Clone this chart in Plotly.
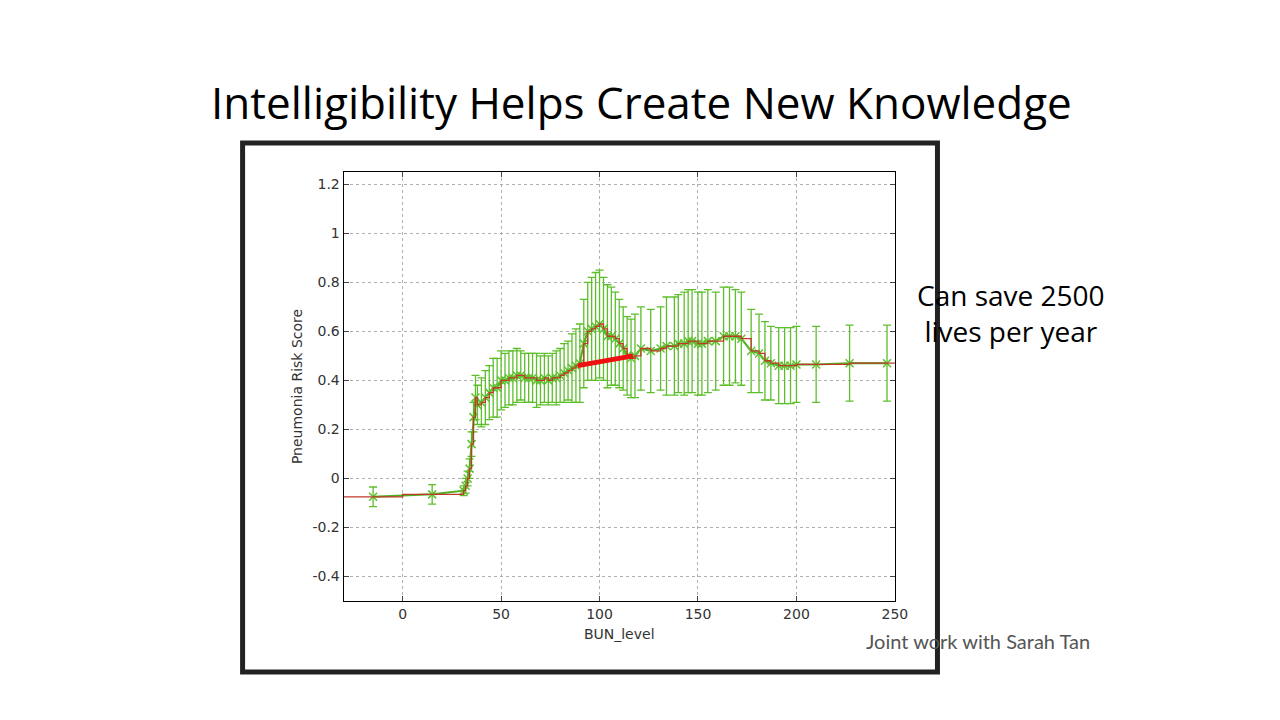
import plotly.graph_objects as go

bun = [-15, 15, 31, 32, 33, 34, 35, 36, 37, 38, 40, 42, 44, 46, 48, 50, 52, 54, 56, 58, 60, 62, 64, 66, 68, 70,
       72, 74, 76, 78, 80, 82, 84, 86, 88, 90, 92, 94, 96, 98, 100, 102, 104, 106, 108, 110, 112, 114, 116, 118,
       121, 126, 131, 134, 138, 140, 143, 145, 147, 150, 152, 155, 159, 163, 166, 169, 172, 177, 181, 184, 187,
       191, 194, 197, 200, 210, 227, 246]
risk = [-0.075, -0.065, -0.05, -0.03, 0.0, 0.04, 0.14, 0.25, 0.33, 0.30, 0.31, 0.33, 0.35, 0.37, 0.37, 0.40, 0.40,
        0.41, 0.41, 0.42, 0.42, 0.41, 0.41, 0.41, 0.40, 0.40, 0.41, 0.40, 0.41, 0.41, 0.42, 0.43, 0.44, 0.45, 0.46,
        0.47, 0.55, 0.60, 0.61, 0.62, 0.63, 0.61, 0.58, 0.58, 0.57, 0.55, 0.53, 0.50, 0.49, 0.50,
        0.53, 0.52, 0.53, 0.54, 0.54, 0.55, 0.55, 0.56, 0.56, 0.55, 0.55, 0.56, 0.56, 0.58, 0.58, 0.58, 0.57, 0.52,
        0.51, 0.48, 0.47, 0.46, 0.46, 0.46, 0.465, 0.465, 0.47, 0.47]
err = [0.04, 0.04, 0.02, 0.03, 0.03, 0.04, 0.05, 0.06, 0.09, 0.08, 0.10, 0.11, 0.11, 0.12, 0.12, 0.12, 0.11, 0.11,
       0.11, 0.11, 0.10, 0.10, 0.10, 0.10, 0.11, 0.10, 0.10, 0.10, 0.10, 0.11, 0.11, 0.12, 0.12, 0.14, 0.15, 0.16,
       0.18, 0.20, 0.21, 0.22, 0.22, 0.21, 0.21, 0.20, 0.19, 0.18, 0.17, 0.16, 0.16, 0.17,
       0.17, 0.17, 0.17, 0.20, 0.20, 0.20, 0.21, 0.21, 0.21, 0.21, 0.21, 0.21, 0.20, 0.20, 0.20, 0.19, 0.19, 0.17,
       0.16, 0.16, 0.15, 0.155, 0.155, 0.155, 0.155, 0.155, 0.155, 0.155]
step_x = [-30, 0, 30] + bun[2:] + [250]
step_y = [-0.075, -0.065, -0.065] + risk[2:] + [0.47]
red_seg_x = [89, 117]
red_seg_y = [0.46, 0.50]
y_ticks = [-0.4, -0.2, 0, 0.2, 0.4, 0.6, 0.8, 1, 1.2]
y_labels = ["-0.4", "-0.2", "0", "0.2", "0.4", "0.6", "0.8", "1", "1.2"]

W, H = 1280, 720
def px(x): return x / W
def py(y): return 1 - y / H

fig = go.Figure()
fig.add_trace(go.Scatter(x=bun, y=risk, mode="lines+markers",
                         line=dict(color="#4caf20", width=2),
                         marker=dict(symbol="x-thin", size=8, line=dict(color="#60c030", width=1.5)),
                         error_y=dict(type="data", array=err, color="#5cbf2a", thickness=1.3, width=4),
                         showlegend=False))
fig.add_trace(go.Scatter(x=step_x, y=step_y, mode="lines", line=dict(color="#c0392b", width=1.3, shape="hv"),
                         showlegend=False))
fig.add_trace(go.Scatter(x=red_seg_x, y=red_seg_y, mode="lines", line=dict(color="#ee1111", width=5),
                         showlegend=False))

ax = dict(showline=True, linecolor="black", linewidth=1, mirror="ticks", ticks="inside", ticklen=5,
          gridcolor="#b0b0b0", griddash="dot", gridwidth=1, zeroline=False,
          tickfont=dict(family="DejaVu Sans", size=14, color="#333"))
fig.update_xaxes(range=[-30, 250], tickvals=[0, 50, 100, 150, 200, 250], domain=[px(339), px(896)], **ax,
                 title=dict(text="BUN_level", font=dict(family="DejaVu Sans", size=14, color="#333"), standoff=8))
fig.update_yaxes(range=[-0.5, 1.25], tickvals=y_ticks, ticktext=y_labels, domain=[py(593), py(164)], **ax,
                 title=dict(text="Pneumonia Risk Score", font=dict(family="DejaVu Sans", size=14, color="#333"), standoff=6))

fig.add_shape(type="rect", xref="paper", yref="paper", x0=px(237), x1=px(939), y0=py(664), y1=py(135),
              line=dict(color="#222", width=5), layer="below")

fig.add_annotation(text="Intelligibility Helps Create New Knowledge", xref="paper", yref="paper",
                   x=px(640), y=py(62), showarrow=False,
                   font=dict(family="Open Sans", size=44, color="black"))
fig.add_annotation(text="Can save 2500<br>lives per year", xref="paper", yref="paper",
                   x=px(1110), y=py(305), showarrow=False,
                   font=dict(family="Open Sans", size=28, color="black"))
fig.add_annotation(text="Joint work with Sarah Tan", xref="paper", yref="paper",
                   x=px(1095), y=py(647), showarrow=False,
                   font=dict(family="Lato", size=20, color="#555"))

fig.update_layout(width=W, height=H, margin=dict(l=0, r=0, t=0, b=0),
                  paper_bgcolor="white", plot_bgcolor="white")
fig.write_html("out.html")
